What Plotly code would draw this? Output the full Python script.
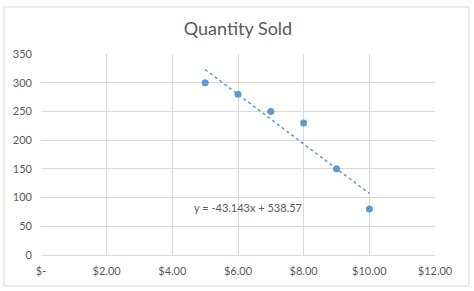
import numpy as np
import plotly.graph_objects as go

price = [5, 6, 7, 8, 9, 10]
quantity = [300, 280, 250, 230, 150, 80]
x_tick_vals = [0, 2, 4, 6, 8, 10, 12]
x_tick_text = ["$-", "$2.00", "$4.00", "$6.00", "$8.00", "$10.00", "$12.00"]
y_tick_vals = [0, 50, 100, 150, 200, 250, 300, 350]

slope, intercept = np.polyfit(price, quantity, 1)
trend_x = [min(price), max(price)]
trend_y = [slope * v + intercept for v in trend_x]

blue = "#5B9BD5"
grid = "#D9D9D9"
txt = "#595959"
font = "Lato"

fig = go.Figure()
fig.add_trace(go.Scatter(x=trend_x, y=trend_y, mode="lines",
                         line=dict(color=blue, width=1.5, dash="dot"),
                         hoverinfo="skip", showlegend=False))
fig.add_trace(go.Scatter(x=price, y=quantity, mode="markers",
                         marker=dict(color=blue, size=7), showlegend=False))

fig.add_annotation(x=6.3, y=82, xref="x", yref="y", showarrow=False,
                   text=f"y = {slope:.3f}x + {intercept:.2f}",
                   font=dict(family=font, size=11, color=txt))

fig.update_layout(
    width=474, height=291,
    margin=dict(l=41, r=39, t=54, b=36),
    paper_bgcolor="white", plot_bgcolor="white",
    title=dict(text="Quantity Sold", x=0.5, xanchor="center", y=0.9, yanchor="middle",
               xref="paper",
               font=dict(family=font, size=18, color=txt)),
    xaxis=dict(range=[0, 12], tickvals=x_tick_vals, ticktext=x_tick_text,
               showgrid=True, gridcolor=grid, gridwidth=1, zeroline=False,
               showline=True, linecolor=grid, ticks="", ticklabelstandoff=6,
               tickfont=dict(family=font, size=11, color=txt)),
    yaxis=dict(range=[0, 350], tickvals=y_tick_vals,
               showgrid=True, gridcolor=grid, gridwidth=1, zeroline=False,
               showline=False, ticks="", ticklabelstandoff=8,
               tickfont=dict(family=font, size=11, color=txt)),
)

# chart outer border
fig.add_shape(type="rect", xref="paper", yref="paper",
              x0=(4 - 41) / 394, x1=(469 - 41) / 394,
              y0=(255 - 286) / 201, y1=(255 - 7) / 201,
              line=dict(color=grid, width=1), fillcolor="rgba(0,0,0,0)", layer="below")

fig.write_html("out.html")
